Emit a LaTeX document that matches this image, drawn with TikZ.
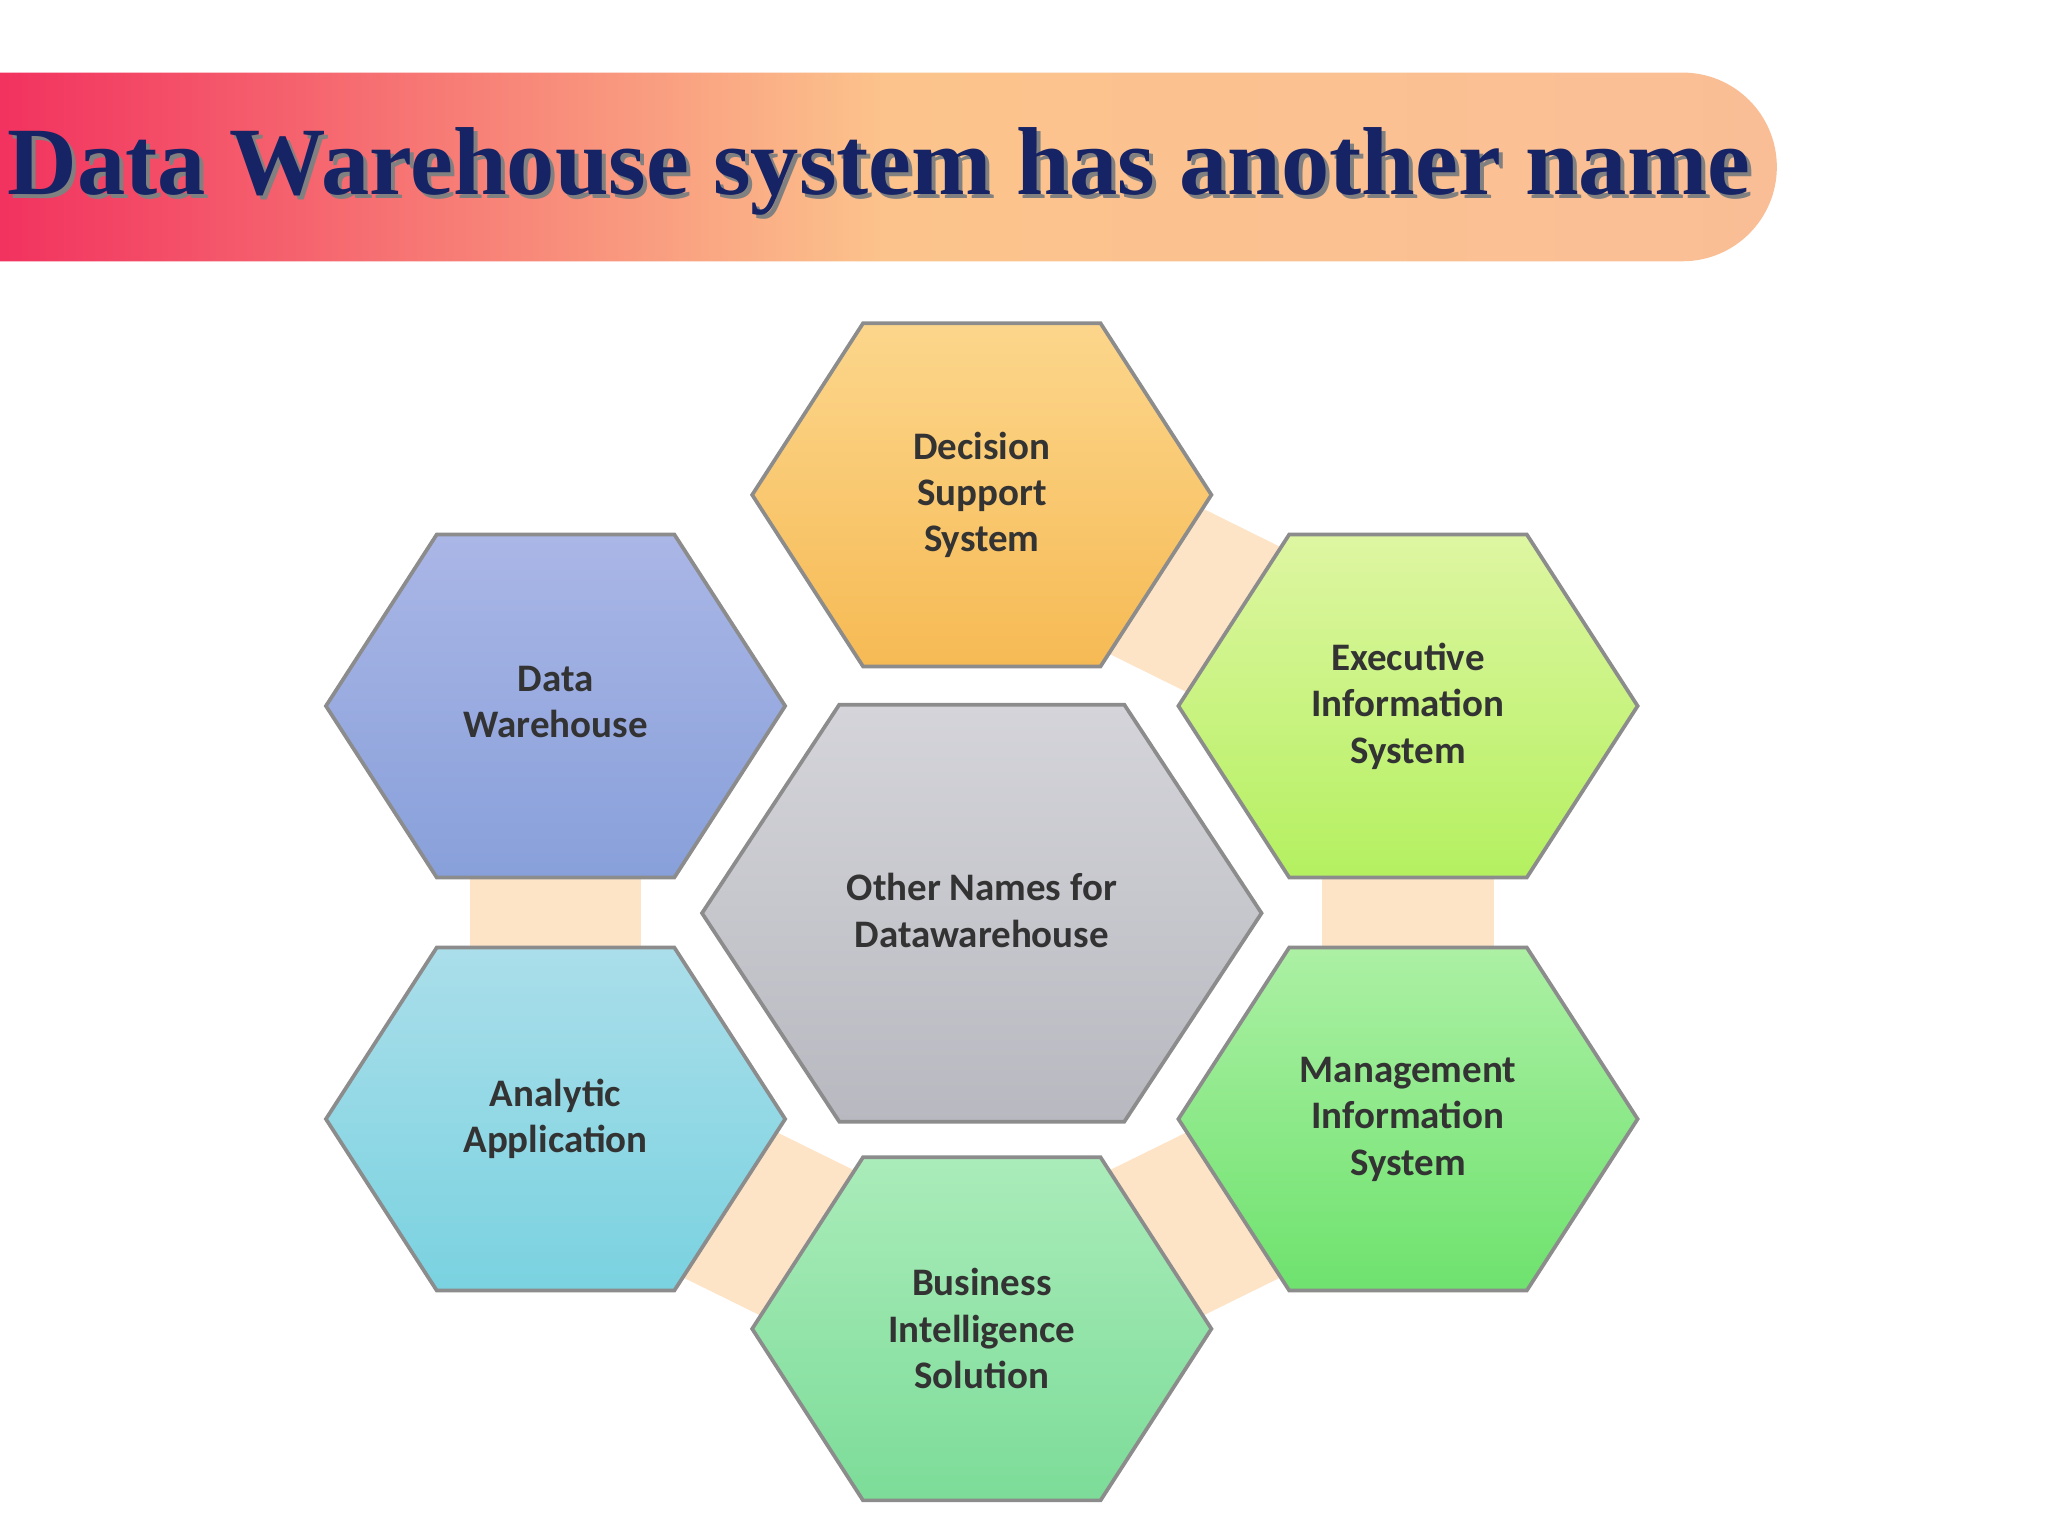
\documentclass[tikz,border=0pt]{standalone}
\usepackage{fontspec}
\usetikzlibrary{calc}
\setmainfont{Liberation Serif}
\newfontfamily\lab{Carlito}
\definecolor{dssT}{RGB}{252,214,140}\definecolor{dssB}{RGB}{246,186,84}
\definecolor{eisT}{RGB}{222,246,162}\definecolor{eisB}{RGB}{180,240,96}
\definecolor{misT}{RGB}{172,240,164}\definecolor{misB}{RGB}{110,226,110}
\definecolor{bisT}{RGB}{170,236,186}\definecolor{bisB}{RGB}{124,220,152}
\definecolor{aaT}{RGB}{170,222,234}\definecolor{aaB}{RGB}{122,210,224}
\definecolor{dwT}{RGB}{170,182,230}\definecolor{dwB}{RGB}{136,160,218}
\definecolor{ctrT}{RGB}{212,212,218}\definecolor{ctrB}{RGB}{184,184,192}
\definecolor{navy}{RGB}{22,35,100}
\definecolor{bandc}{RGB}{253,228,198}
\definecolor{banL}{RGB}{242,50,95}
\definecolor{banM}{RGB}{252,196,140}
\definecolor{banR}{RGB}{250,190,150}
\begin{document}
\begin{tikzpicture}[x=0.01cm,y=-0.01cm,
  lbl/.style={font=\lab\bfseries\fontsize{8.4}{10}\selectfont,text=black!80,align=center},
  band/.style={draw=bandc,line width=1.3cm,line cap=butt}]
\useasboundingbox (0,0) rectangle (1552,1164);
\fill[white] (0,0) rectangle (1552,1164);
% banner
\begin{scope}[y=0.01cm]
\shade[left color=banL, right color=banR, middle color=banM]
  (0,-55) -- (1275,-55) arc[start angle=90,end angle=-90,radius=71.5] -- (0,-198) -- cycle;
\end{scope}
\node[anchor=west,text=black!50,inner sep=0] at (8,133) {\resizebox{13.2cm}{!}{\bfseries Data Warehouse system has another name}};
\node[anchor=west,text=navy,inner sep=0] (title) at (5,130) {\resizebox{13.2cm}{!}{\bfseries Data Warehouse system has another name}};
% centres
\coordinate (dss) at (744,375);
\coordinate (eis) at (1067,535);
\coordinate (mis) at (1067,848);
\coordinate (bis) at (744,1007);
\coordinate (aa) at (421,848);
\coordinate (dw) at (421,535);
\coordinate (ctr) at (744,692);
% bands
\draw[band] (dss) -- (eis);
\draw[band] (eis) -- (mis);
\draw[band] (mis) -- (bis);
\draw[band] (bis) -- (aa);
\draw[band] (aa) -- (dw);
\newcommand\hexa[6]{%
 \shade[top color=#3,bottom color=#4,draw=black!45,line width=0.8pt]
  ($(#1)+(-#5,0)$) -- ($(#1)+(-#6,-#2)$) -- ($(#1)+(#6,-#2)$) -- ($(#1)+(#5,0)$) -- ($(#1)+(#6,#2)$) -- ($(#1)+(-#6,#2)$) -- cycle;}
\hexa{dss}{130}{dssT}{dssB}{174}{90}
\hexa{eis}{130}{eisT}{eisB}{174}{90}
\hexa{mis}{130}{misT}{misB}{174}{90}
\hexa{bis}{130}{bisT}{bisB}{174}{90}
\hexa{aa}{130}{aaT}{aaB}{174}{90}
\hexa{dw}{130}{dwT}{dwB}{174}{90}
\hexa{ctr}{158}{ctrT}{ctrB}{212}{108}
\node[lbl] (tdss) at (744,375) {Decision\\Support\\System};
\node[lbl] (teis) at (1067,535) {Executive\\Information\\System};
\node[lbl] (tmis) at (1067,848) {Management\\Information\\System};
\node[lbl] (tbis) at (744,1007) {Business\\Intelligence\\Solution};
\node[lbl] (taa) at (421,848) {Analytic\\Application};
\node[lbl] (tdw) at (421,532) {Data\\Warehouse};
\node[lbl] (tctr) at (744,690) {Other Names for\\Datawarehouse};
\end{tikzpicture}
\end{document}
